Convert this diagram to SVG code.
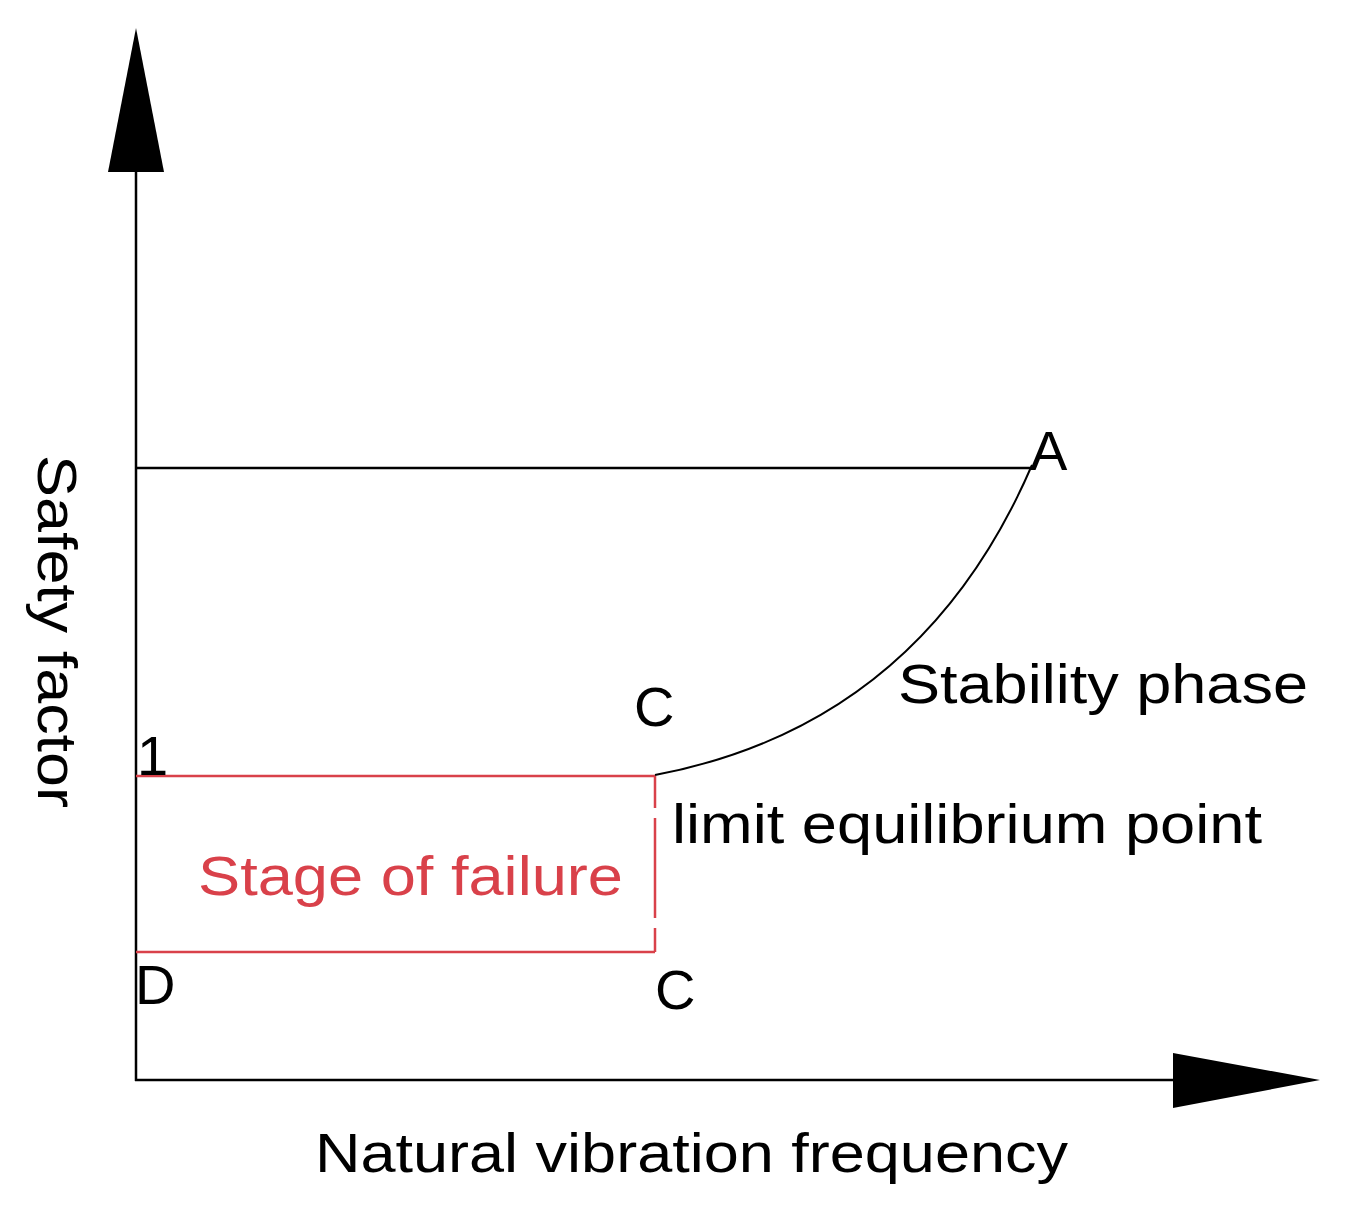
<svg xmlns="http://www.w3.org/2000/svg" width="1353" height="1215" viewBox="0 0 1353 1215">
<style>
text{font-family:"Liberation Sans",Arial,sans-serif;font-size:56px;fill:#000}
.ln{stroke:#000;stroke-width:2.5;fill:none}
.red{stroke:#d9414a;stroke-width:2.5;fill:none}
</style>
<rect width="1353" height="1215" fill="#fff"/>
<g id="connectors">
<line class="ln" x1="136" y1="160" x2="136" y2="1081"/>
<polygon points="136,28 108,172 164,172" fill="#000"/>
<line class="ln" x1="135" y1="1080" x2="1190" y2="1080"/>
<polygon points="1320,1080 1173,1053 1173,1108" fill="#000"/>
<line class="ln" x1="136" y1="468" x2="1032" y2="468"/>
<path class="ln" style="stroke-width:2" d="M655,775 Q920,725 1032,465"/>
<polyline class="red" points="136,776 655,776"/>
<polyline class="red" points="136,952 655,952"/>
<line class="red" x1="655" y1="776" x2="655" y2="952" stroke-dasharray="32,10,100,10"/>
</g>
<g id="labels">
<text x="1030" y="470">A</text>
<text x="898" y="703" textLength="410" lengthAdjust="spacingAndGlyphs">Stability phase</text>
<text x="634" y="726">C</text>
<text x="137" y="775">1</text>
<text x="672" y="843" textLength="590" lengthAdjust="spacingAndGlyphs">limit equilibrium point</text>
<text x="198" y="895" style="fill:#d9414a" textLength="425" lengthAdjust="spacingAndGlyphs">Stage of failure</text>
<text x="135" y="1004">D</text>
<text x="655" y="1009">C</text>
<text x="315" y="1172" textLength="753" lengthAdjust="spacingAndGlyphs">Natural vibration frequency</text>
<text transform="translate(38,455) rotate(90)" textLength="353" lengthAdjust="spacingAndGlyphs">Safety factor</text>
</g>
</svg>
